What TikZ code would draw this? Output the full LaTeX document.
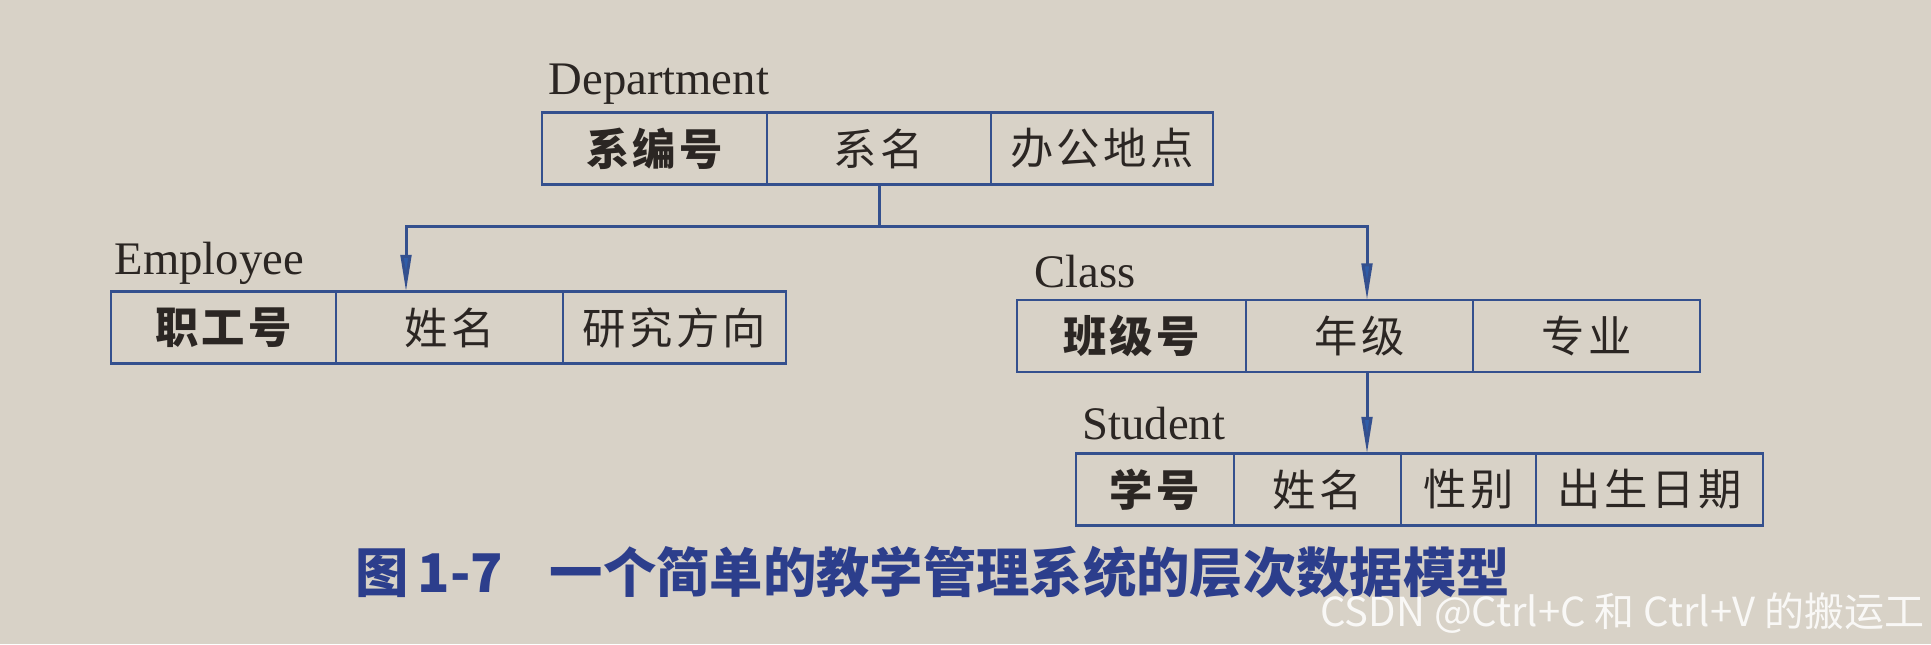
\documentclass[tikz,border=0pt]{standalone}
\usepackage{fontspec}
\setmainfont{Liberation Serif}
\newfontfamily\cjk[LetterSpace=8]{Noto Sans CJK SC}
\newfontfamily\cjkw{Noto Sans CJK SC}
\usetikzlibrary{arrows.meta}
\definecolor{paper}{HTML}{D8D2C7}
\definecolor{ink}{HTML}{2B2623}
\definecolor{rule}{HTML}{34508E}
\definecolor{arrowblue}{HTML}{2F5DA8}
\definecolor{capblue}{HTML}{2C3E8C}
\tikzset{
  cell/.style={draw=rule, line width=0.8pt, inner sep=0pt, outer sep=0pt,
    text=ink, minimum height=21.6pt, minimum width=#1,
    font=\cjk\fontsize{13}{13}\selectfont},
  keycell/.style={cell=#1, font=\cjk\bfseries\fontsize{13}{13}\selectfont},
  tname/.style={anchor=base west, inner sep=0pt, text=ink,
    font=\fontsize{14}{14}\selectfont},
  link/.style={draw=rule, line width=0.9pt},
  arr/.style={link, -{Triangle[length=11pt,width=3.2pt,fill=arrowblue]}},
  captext/.style={anchor=west, inner sep=0pt, text=capblue,
    font=\cjkw\bfseries\fontsize{16}{16}\selectfont},
  wmark/.style={anchor=east, inner sep=0pt, text=white, opacity=0.85,
    font=\cjkw\fontsize{12}{12}\selectfont}
}
\begin{document}
\begin{tikzpicture}[x=0.3pt,y=-0.3pt]
\fill[paper] (0,0) rectangle (1931,644);
\useasboundingbox (0,0) rectangle (1931,644);

% Department
\node[tname] (dname) at (548,94) {Department};
\node[keycell=67.5pt] (d1) at (654.5,148.5) {系编号};
\node[cell=67.2pt] (d2) at (879,148.5) {系名};
\node[cell=66.6pt] (d3) at (1102,148.5) {办公地点};

% Employee
\node[tname] (ename) at (114,274) {Employee};
\node[keycell=67.5pt] (e1) at (223.5,327.5) {职工号};
\node[cell=68.1pt] (e2) at (449.5,327.5) {姓名};
\node[cell=66.9pt] (e3) at (674.5,327.5) {研究方向};

% Class
\node[tname] (cname) at (1034,287) {Class};
\node[keycell=68.7pt] (c1) at (1131.5,336) {班级号};
\node[cell=68.1pt] (c2) at (1359.5,336) {年级};
\node[cell=68.1pt] (c3) at (1586.5,336) {专业};

% Student
\node[tname] (sname) at (1082,439) {Student};
\node[keycell=47.4pt] (s1) at (1155,489.5) {学号};
\node[cell=50.1pt] (s2) at (1317.5,489.5) {姓名};
\node[cell=40.5pt] (s3) at (1468.5,489.5) {性别};
\node[cell=68.1pt] (s4) at (1649.5,489.5) {出生日期};

% connectors
\coordinate (jm) at (d2.south |- 0,226);
\coordinate (jl) at (406,226);
\coordinate (jr) at (1367,226);
\draw[link] (d2.south) -- (jm);
\draw[arr] (jm) -- (jl) -- (jl |- e2.north);
\draw[arr] (jm) -- (jr) -- (jr |- c2.north);
\draw[arr] (c2.south -| jr) -- (jr |- s2.north);

% caption
\node[captext] (cap) at (355,572) {图\,1-7\hspace{14pt}一个简单的教学管理系统的层次数据模型};

% watermark
\node[wmark] (wm) at (1925,613) {CSDN @Ctrl+C 和 Ctrl+V 的搬运工};
\end{tikzpicture}
\end{document}
